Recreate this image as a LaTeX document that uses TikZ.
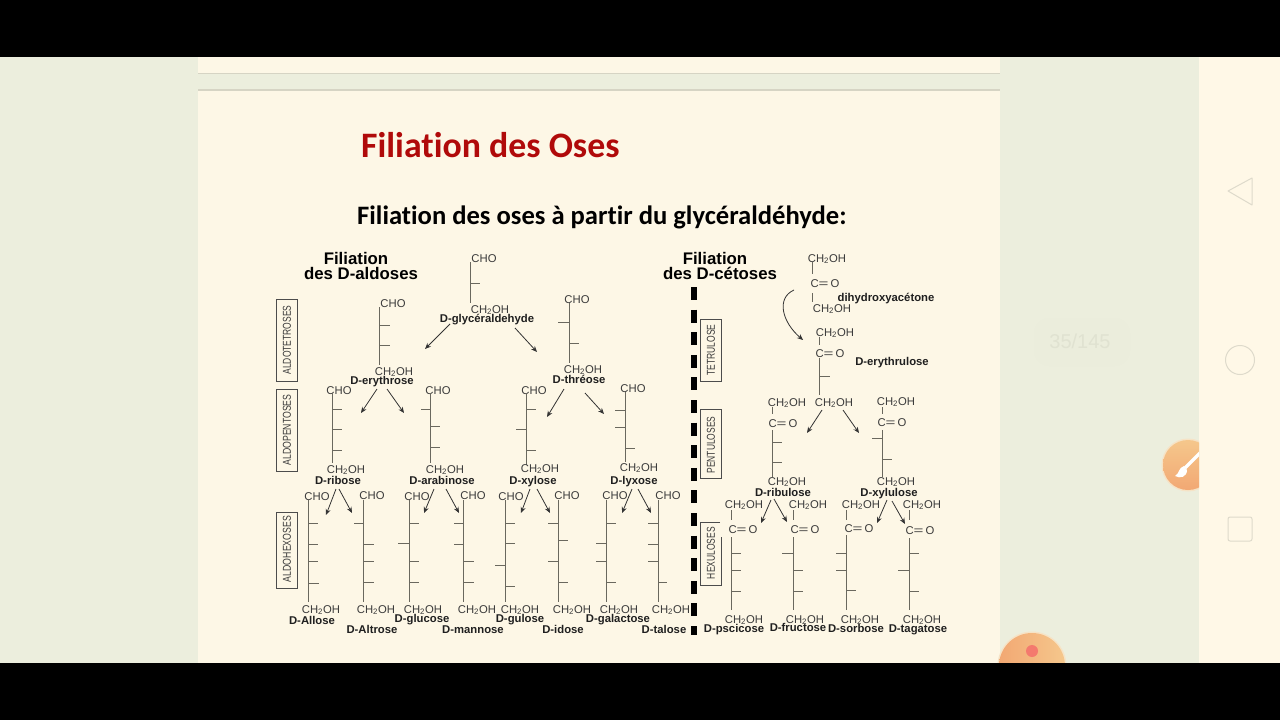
\documentclass[tikz,border=0pt]{standalone}
\usepackage{fontspec}
\usepackage{graphicx}
\setmainfont{Liberation Sans}
\newfontfamily\titlefont[Ligatures=NoCommon]{Carlito}
\usetikzlibrary{arrows.meta}
\definecolor{cream}{HTML}{FDF7E6}
\definecolor{sidegreen}{HTML}{ECEEDD}
\definecolor{pillgreen}{HTML}{EBEDDC}
\definecolor{panel}{HTML}{FFF8E7}
\definecolor{titlered}{HTML}{B00A0A}
\definecolor{stem}{HTML}{6A685E}
\definecolor{chem}{HTML}{3A3A3A}
\definecolor{uigrey}{HTML}{DEDACB}
\definecolor{edge}{HTML}{D6D4C4}
\definecolor{pagetext}{HTML}{E0E2D1}
\definecolor{btnlight}{HTML}{F5C78C}
\definecolor{btndark}{HTML}{F2A873}
\definecolor{btnhalo}{HTML}{F6E3C6}
\definecolor{recdot}{HTML}{F47A6E}
\tikzset{
 x=1pt,y=-1pt,
 chemtext/.style={inner sep=0pt,text=chem,text height=8pt,text depth=0pt,font=\fontsize{11.3}{12}\selectfont},
 namelabel/.style={inner sep=0pt,text=black!88,text height=8pt,text depth=0pt,font=\fontsize{11.3}{12}\selectfont\bfseries},
 header/.style={inner sep=0pt,text=black,text height=11pt,text depth=0pt,font=\fontsize{16.8}{18}\selectfont\bfseries},
 stemline/.style={draw=stem,line width=1pt},
 tickline/.style={draw=stem,line width=0.9pt},
 reaction/.style={draw=black!80,line width=0.8pt,-{Stealth[length=6pt,width=5pt]}},
 framebox/.style={draw=black!70,line width=0.8pt},
 sidelabel/.style={inner sep=0pt,rotate=90,text=chem},
 uimark/.style={draw=uigrey,line width=1pt},
}
% name, x, top y, bottom y, ticks (y/end x)
\newcommand\chainstem[5]{%
 \coordinate (#1t) at (#2,#3);
 \coordinate (#1b) at (#2,#4);
 \draw[stemline] (#1t) -- (#1b);
 \foreach \ty/\tx in {#5} {\draw[tickline] (#2,\ty) -- (\tx,\ty);}
}
\newcommand\plainstem[4]{%
 \coordinate (#1t) at (#2,#3);
 \coordinate (#1b) at (#2,#4);
 \draw[stemline] (#1t) -- (#1b);
}
\newcommand\rarrow[5]{%
 \coordinate (#1s) at (#2,#3);
 \coordinate (#1e) at (#4,#5);
 \draw[reaction] (#1s) -- (#1e);
}
\newcommand\chemtxt[4]{\node[chemtext] (#1) at (#2,#3) {#4};}
\newcommand\chemname[4]{\node[namelabel] (#1) at (#2,#3) {#4};}
\newcommand\sidetag[5]{% name, x, y, length, text
 \node[sidelabel] (#1) at (#2,#3) {\resizebox{#4pt}{8pt}{#5}};}
\newcommand\chtwo{CH\textsubscript{2}OH}
\newcommand\cko{C\scalebox{1.5}[1]{=}\kern2pt O}
\begin{document}
\begin{tikzpicture}
\useasboundingbox (0,0) rectangle (1280,720);
% screen
\fill[sidegreen] (0,0) rectangle (1199,720);
\fill[panel] (1199,0) rectangle (1280,720);
\fill[cream] (198,57) rectangle (1000,73);
\draw[edge,line width=0.8pt] (198,73) -- (1000,73);
\fill[cream] (198,90) rectangle (1000,663);
\draw[edge,line width=1.2pt] (198,90) -- (1000,90);
% viewer controls
\fill[pillgreen,rounded corners=16pt] (1034,318) rectangle (1130,366);
\node[inner sep=0pt,text=pagetext,font=\fontsize{20}{22}\selectfont] (pagecount) at (1080,341) {35/145};
\draw[uimark,line join=round] (1252,178) -- (1228,191) -- (1252,205) -- cycle;
\node[uimark,circle,minimum size=29pt,inner sep=0pt] (homebtn) at (1240,360) {};
\node[uimark,rectangle,rounded corners=2pt,minimum size=24pt,inner sep=0pt] (recentbtn) at (1240,529) {};
\begin{scope}
 \clip (1100,400) rectangle (1199,520);
 \fill[btnhalo] (1188,465) circle (26.5);
 \shade[top color=btnlight,bottom color=btndark] (1188,465) circle (25);
 \draw[white,line width=3.5pt] (1201,452) -- (1185,468);
 \fill[white] (1184,466) .. controls (1178,468) and (1180,473) .. (1175,476) .. controls (1180,479) and (1187,477) .. (1187,470) -- cycle;
\end{scope}
\fill[btnhalo] (1032,666) circle (34.5);
\shade[left color=btndark,right color=btnlight] (1032,666) circle (33);
\fill[recdot] (1032,651) circle (6);
\fill[black] (0,0) rectangle (1280,57);
\fill[black] (0,663) rectangle (1280,720);
% titles
\node[inner sep=0pt,anchor=base west,text=titlered,font=\fontsize{35.8}{38}\selectfont\titlefont\bfseries] (maintitle) at (361,157) {Filiation des Oses};
\node[inner sep=0pt,anchor=base west,text=black,font=\fontsize{26.6}{29}\selectfont\titlefont\bfseries] (subtitle) at (357,224) {Filiation des oses à partir du glycéraldéhyde:};
\node[header] (hala) at (356,259) {Filiation};
\node[header] (halb) at (361,274) {des D-aldoses};
\node[header] (heta) at (715,259) {Filiation};
\node[header] (hetb) at (720,274) {des D-cétoses};
% divider
\coordinate (divt) at (694,287);
\coordinate (divb) at (694,635);
\draw[black,line width=6pt,dash pattern=on 13pt off 9.6pt] (divt) -- (divb);
% side boxes
\draw[framebox] (276,299) rectangle (297,381);
\sidetag{ltetr}{287}{340}{69}{ALDOTETROSES}
\draw[framebox] (276,389) rectangle (297,471);
\sidetag{lpent}{287}{430}{71}{ALDOPENTOSES}
\draw[framebox] (276,512) rectangle (297,588);
\sidetag{lhex}{287}{549}{66}{ALDOHEXOSES}
\draw[framebox] (700,319) rectangle (721,381);
\sidetag{ktetr}{711}{350}{51}{TETRULOSE}
\draw[framebox] (700,409) rectangle (721,478);
\sidetag{kpent}{711}{445}{57}{PENTULOSES}
\draw[framebox] (720,522) -- (700,522) -- (700,585) -- (721,585) -- (721,537);
\sidetag{khex}{711}{553}{52}{HEXULOSES}
% ===== aldoses =====
\chemtxt{gcho}{484}{258}{CHO}
\chainstem{g}{470.5}{262}{303}{283/480}
\chemtxt{gch}{490}{309}{\chtwo}
\chemname{gn}{487}{318}{D-glycéraldehyde}
\rarrow{a1}{450}{324}{425}{349}
\rarrow{a2}{515}{328}{537}{352}
\chemtxt{ecc}{393}{303}{CHO}
\chainstem{e}{379.5}{307}{365}{325/390,345/390}
\chemtxt{ech}{394}{371}{\chtwo}
\chemname{en}{382}{380}{D-erythrose}
\rarrow{a3}{377}{389}{361}{413}
\rarrow{a4}{387}{389}{404}{413}
\chemtxt{tcc}{577}{299}{CHO}
\chainstem{t}{569}{303}{363}{322/558,343/579}
\chemtxt{tch}{583}{369}{\chtwo}
\chemname{tn}{579}{379}{D-thréose}
\rarrow{a5}{564}{389}{547}{417}
\rarrow{a6}{585}{393}{604}{414}
\chemtxt{rcc}{339}{390}{CHO}
\chainstem{r}{332}{393}{463}{409/342,429/342,450/342}
\chemtxt{rch}{346}{469}{\chtwo}
\chemname{rn}{338}{480}{D-ribose}
\chemtxt{acc}{438}{390}{CHO}
\chainstem{ar}{430}{393}{463}{409/421,426/440,447/440}
\chemtxt{ach}{445}{469}{\chtwo}
\chemname{an}{442}{480}{D-arabinose}
\chemtxt{xcc}{534}{390}{CHO}
\chainstem{x}{526}{393}{465}{409/536,429/516,450/536}
\chemtxt{xch}{540}{468}{\chtwo}
\chemname{xn}{533}{480}{D-xylose}
\chemtxt{lcc}{633}{388}{CHO}
\chainstem{l}{625}{392}{462}{410/615,427/615,448/635}
\chemtxt{lch}{639}{467}{\chtwo}
\chemname{ln}{634}{480}{D-lyxose}
\rarrow{b1}{336}{489}{326}{515}
\rarrow{b2}{339}{489}{352}{513}
\rarrow{b3}{434}{489}{424}{513}
\rarrow{b4}{446}{489}{459}{513}
\rarrow{b5}{530}{489}{521}{513}
\rarrow{b6}{537}{489}{550}{513}
\rarrow{b7}{632}{489}{622}{513}
\rarrow{b8}{638}{489}{651}{513}
% hexoses
\chemtxt{h1c}{317}{496}{CHO}
\chainstem{h1}{308}{500}{602}{523/318,544/318,561/318,583/319}
\chemtxt{h1h}{321}{609}{\chtwo}
\chemname{h1n}{312}{620}{D-Allose}
\chemtxt{h2c}{372}{495}{CHO}
\chainstem{h2}{363}{500}{602}{523/354,544/374,561/374,582/374}
\chemtxt{h2h}{376}{609}{\chtwo}
\chemname{h2n}{372}{629}{D-Altrose}
\chemtxt{h3c}{417}{496}{CHO}
\chainstem{h3}{409}{500}{602}{523/419,543/398,561/419,582/419}
\chemtxt{h3h}{423}{609}{\chtwo}
\chemname{h3n}{422}{618}{D-glucose}
\chemtxt{h4c}{473}{495}{CHO}
\chainstem{h4}{463}{500}{602}{523/454,544/454,561/474,582/474}
\chemtxt{h4h}{477}{609}{\chtwo}
\chemname{h4n}{473}{629}{D-mannose}
\chemtxt{h5c}{511}{496}{CHO}
\chainstem{h5}{505}{500}{602}{523/515,543/515,565/495,586/515}
\chemtxt{h5h}{520}{609}{\chtwo}
\chemname{h5n}{520}{618}{D-gulose}
\chemtxt{h6c}{567}{495}{CHO}
\chainstem{h6}{558}{500}{602}{523/548,540/568,561/548,582/568}
\chemtxt{h6h}{572}{609}{\chtwo}
\chemname{h6n}{563}{629}{D-idose}
\chemtxt{h7c}{615}{495}{CHO}
\chainstem{h7}{606}{500}{602}{523/616,543/596,561/596,582/616}
\chemtxt{h7h}{619}{609}{\chtwo}
\chemname{h7n}{618}{618}{D-galactose}
\chemtxt{h8c}{668}{495}{CHO}
\chainstem{h8}{658}{500}{602}{523/648,544/648,561/648,582/667}
\chemtxt{h8h}{671}{609}{\chtwo}
\chemname{h8n}{664}{629}{D-talose}
% ===== ketoses =====
\chemtxt{da}{827}{258}{\chtwo}
\plainstem{d1}{812}{262}{274}
\chemtxt{dc}{825}{283}{\cko}
\plainstem{d2}{812}{293}{302}
\chemtxt{db}{832}{308}{\chtwo}
\chemname{dn}{886}{297}{dihydroxyacétone}
\coordinate (cvs) at (794,290);
\coordinate (cve) at (803,340);
\draw[reaction] (cvs) .. controls (776,298) and (782,322) .. (cve);
\chemtxt{ua}{835}{332}{\chtwo}
\plainstem{u1}{819}{337}{345}
\chemtxt{uc}{830}{353}{\cko}
\chainstem{u2}{819}{358}{395}{376/830}
\chemname{un}{892}{361}{D-erythrulose}
\chemtxt{ub}{834}{402}{\chtwo}
\rarrow{c1}{822}{410}{807}{433}
\rarrow{c2}{843}{410}{859}{433}
\chemtxt{ra}{787}{402}{\chtwo}
\plainstem{ra1}{772}{407}{414}
\chemtxt{rc}{783}{423}{\cko}
\chainstem{ra2}{772}{430}{477}{442/782,462/782}
\chemtxt{rb}{787}{481}{\chtwo}
\chemname{ru}{783}{492}{D-ribulose}
\chemtxt{xa}{896}{401}{\chtwo}
\plainstem{xa1}{882}{407}{414}
\chemtxt{xc}{892}{422}{\cko}
\chainstem{xa2}{882}{430}{477}{438/872,459/892}
\chemtxt{xb}{896}{481}{\chtwo}
\chemname{xu}{889}{492}{D-xylulose}
\rarrow{c3}{771}{500}{761}{523}
\rarrow{c4}{774}{499}{787}{522}
\rarrow{c5}{887}{500}{877}{523}
\rarrow{c6}{892}{501}{905}{524}
\chemtxt{k1a}{744}{504}{\chtwo}
\plainstem{k1u}{731}{510}{520}
\chemtxt{k1c}{743}{529}{\cko}
\chainstem{k1}{731}{537}{610}{553/741,570/741,591/741}
\chemtxt{k1b}{744}{619}{\chtwo}
\chemname{k1n}{734}{628}{D-pscicose}
\chemtxt{k2a}{808}{504}{\chtwo}
\plainstem{k2u}{793}{510}{520}
\chemtxt{k2c}{805}{529}{\cko}
\chainstem{k2}{793}{537}{610}{553/782,570/803,591/803}
\chemtxt{k2b}{805}{619}{\chtwo}
\chemname{k2n}{798}{627}{D-fructose}
\chemtxt{k3a}{861}{504}{\chtwo}
\plainstem{k3u}{846}{510}{520}
\chemtxt{k3c}{859}{528}{\cko}
\chainstem{k3}{846}{535}{610}{553/836,570/836,590/856}
\chemtxt{k3b}{860}{619}{\chtwo}
\chemname{k3n}{856}{628}{D-sorbose}
\chemtxt{k4a}{922}{504}{\chtwo}
\plainstem{k4u}{909}{510}{520}
\chemtxt{k4c}{920}{530}{\cko}
\chainstem{k4}{909}{538}{610}{553/919,570/898,591/919}
\chemtxt{k4b}{922}{619}{\chtwo}
\chemname{k4n}{918}{628}{D-tagatose}
\end{tikzpicture}
\end{document}
